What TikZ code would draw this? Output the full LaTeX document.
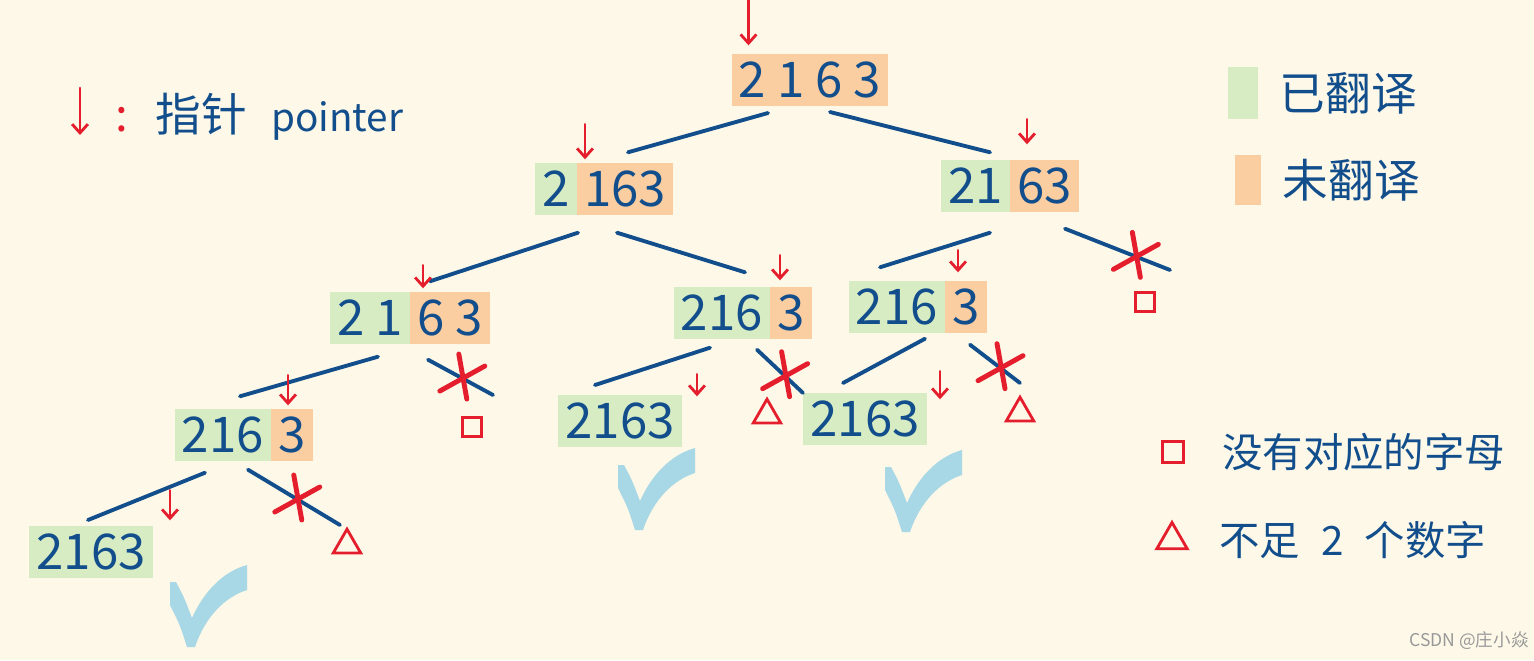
\documentclass[tikz,border=0pt]{standalone}
\usepackage{fontspec}
\newfontfamily\hand{Noto Sans CJK SC}
\usetikzlibrary{positioning,arrows.meta,shapes.geometric}
\tikzset{>={Straight Barb[length=5pt,width=9pt]}}

\begin{document}
\begin{tikzpicture}[x=0.02cm,y=-0.02cm,
  num/.style={font=\hand\fontsize{28}{30}\selectfont, text=ink, inner xsep=4pt, inner ysep=4pt, text height=21pt, text depth=1pt},
  done/.style={num, fill=donegreen},
  todo/.style={num, fill=todoorange},
  edge/.style={draw=ink, line width=2.2pt, line cap=round},
  ptr/.style={draw=pen, line width=1.6pt, ->, line cap=round},
  cut/.style={draw=pen, line width=2.8pt, line cap=round},
  nosym/.style={draw=pen, line width=1.6pt, minimum size=11pt, inner sep=0pt},
  shortsym/.style={draw=pen, line width=1.6pt, regular polygon, regular polygon sides=3, minimum size=18pt, inner sep=0pt},
  legend/.style={font=\hand\fontsize{26}{28}\selectfont, text=ink, inner sep=0pt},
  note/.style={font=\hand\fontsize{23}{26}\selectfont, text=ink, inner sep=0pt},
  tick/.style={fill=checkblue}]
      \definecolor{ink}{RGB}{18,78,140}
      \definecolor{pen}{RGB}{228,30,45}
      \definecolor{donegreen}{RGB}{216,236,196}
      \definecolor{todoorange}{RGB}{251,206,162}
      \definecolor{checkblue}{RGB}{168,216,230}
      \definecolor{paper}{RGB}{253,248,232}
\useasboundingbox (0,0) rectangle (1534,660);
\fill[paper] (0,0) rectangle (1534,660);

% the numbers: green part is translated, orange part is not
\node[todo] (root) at (810,80) {2 1 6 3};
\node[done, anchor=east] (la1) at (577,189) {2};
\node[todo, right=0pt of la1] (la2) {163};
\node[done, anchor=east] (ra1) at (1010,186) {21};
\node[todo, right=0pt of ra1] (ra2) {63};
\node[done, anchor=east] (lb1) at (410,318) {2 1};
\node[todo, right=0pt of lb1] (lb2) {6 3};
\node[done, anchor=east] (mb1) at (770,313) {216};
\node[todo, right=0pt of mb1] (mb2) {3};
\node[done, anchor=east] (rb1) at (945,307) {216};
\node[todo, right=0pt of rb1] (rb2) {3};
\node[done, anchor=east] (lc1) at (271,435) {216};
\node[todo, right=0pt of lc1] (lc2) {3};
\node[done] (mc) at (620,421) {2163};
\node[done] (rc) at (865,419) {2163};
\node[done] (ld) at (91,552) {2163};

% dead ends of the branches that fail
\coordinate (e1) at (1170,270);
\coordinate (e2) at (493,395);
\coordinate (e3) at (803,393);
\coordinate (e4) at (1020,383);
\coordinate (e5) at (340,525);

% branches
\draw[edge] ([shift={(-42,33)}]root.center) -- ([shift={(51,-10)}]la2.north west);
\draw[edge] ([shift={(20,32)}]root.center) -- ([shift={(-20,-7)}]ra1.north east);
\draw[edge] ([shift={(1,17)}]la1.south east) -- ([shift={(20,-10)}]lb2.north west);
\draw[edge] ([shift={(40,17)}]la2.south west) -- ([shift={(-25,-14)}]mb1.north east);
\draw[edge] ([shift={(-20,20)}]ra1.south east) -- ([shift={(-65,-13)}]rb1.north east);
\draw[edge] ([shift={(55,16)}]ra2.south west) -- coordinate[pos=.67] (k1) (e1);
\draw[edge] ([shift={(-32,12)}]lb1.south east) -- ([shift={(-31,-12)}]lc1.north east);
\draw[edge] ([shift={(18,15)}]lb2.south west) -- coordinate[pos=.52] (k2) (e2);
\draw[edge] ([shift={(-60,8)}]mb1.south east) -- ([shift={(-25,-36)}]mc.center);
\draw[edge] ([shift={(-13,10)}]mb1.south east) -- coordinate[pos=.6] (k3) (e3);
\draw[edge] ([shift={(-20,5)}]rb1.south east) -- ([shift={(-22,-36)}]rc.center);
\draw[edge] ([shift={(25,11)}]rb2.south west) -- coordinate[pos=.6] (k4) (e4);
\draw[edge] ([shift={(-66,11)}]lc1.south east) -- ([shift={(-3,-32)}]ld.center);
\draw[edge] ([shift={(-23,8)}]lc1.south east) -- coordinate[pos=.53] (k5) (e5);

% crossed out branches
\foreach \k in {k1,k2,k3,k4,k5}
	\draw[cut] (\k) +(-3,-24) -- +(5,21) (\k) +(23,-12) -- +(-22,13);

% why they fail
\node[nosym] (s1) at (1145,302) {};
\node[nosym] (s2) at (472,427) {};
\node[shortsym] (t1) at (767,415) {};
\node[shortsym] (t2) at (1020,413) {};
\node[shortsym] (t3) at (347,545) {};

% pointers
\foreach \at/\dx/\ya/\yb in {root.north west/17/-55/-8, la2.north west/8/-38/-3,
    ra2.north west/17/-40/-15, lb2.north west/13/-26/-3, mb2.north west/10/-31/-6,
    rb2.north west/13/-30/-8, lc2.north west/17/-33/-3, mc.north east/15/-20/2,
    rc.north east/13/-21/7, ld.north east/17/-35/-5}
	\draw[ptr] (\at) +(\dx,\ya) -- +(\dx,\yb);

% ticks under the finished ones
\foreach \tx/\ty in {190/647, 638/530, 905/532}
	\fill[tick, shift={(\tx,\ty)}] (-20,-65) -- (-14,-65) .. controls (-6,-50) .. (2,-29)
	  .. controls (15,-58) and (35,-76) .. (57,-82) -- (57,-57)
	  .. controls (35,-50) and (15,-30) .. (5,0) -- (-3,0)
	  .. controls (-10,-22) .. (-20,-42) -- cycle;

% legend
\node[font=\hand\fontsize{26}{28}\selectfont, text=pen] (colon) at (122,120) {:};
\draw[ptr] (colon) +(-42,-32) -- +(-42,15);
\node[legend, anchor=west] (ptrtext) at (155,117) {指针\hspace{14pt}{\fontsize{22}{24}\selectfont pointer}};
\node[fill=donegreen, minimum width=17pt, minimum height=30pt, inner sep=0pt] (sw1) at (1243,93) {};
\node[legend, right=12pt of sw1] (l1) {已翻译};
\node[fill=todoorange, minimum width=15pt, minimum height=28pt, inner sep=0pt] (sw2) at (1248,180) {};
\node[legend, right=12pt of sw2] (l2) {未翻译};
\node[nosym, minimum size=12pt] (lsq) at (1173,452) {};
\node[note, right=21pt of lsq] (l3) {没有对应的字母};
\node[shortsym, minimum size=20pt] (ltr) at (1172,540) {};
\node[note, right=20pt of ltr] (l4) {不足\hspace{12pt}2\hspace{12pt}个数字};

\node[font=\hand\fontsize{10}{12}\selectfont, text=black!40] (mark) at (1469,641) {CSDN @庄小焱};
\end{tikzpicture}
\end{document}
